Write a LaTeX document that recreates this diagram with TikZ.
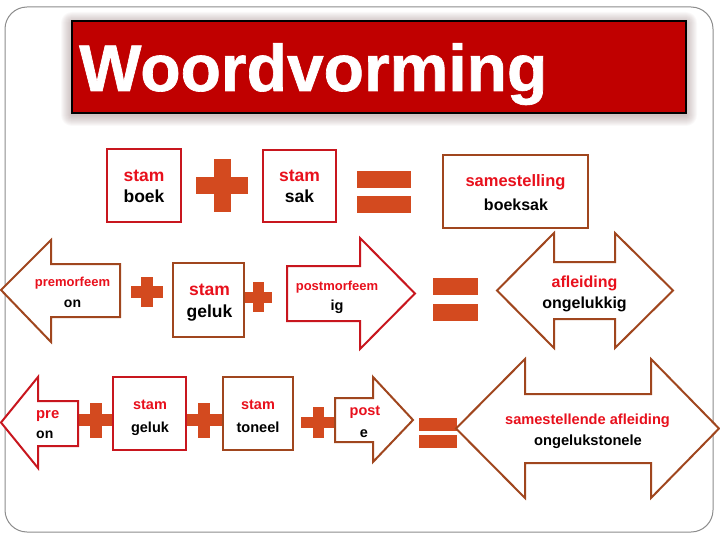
\documentclass[tikz,border=0pt]{standalone}
\usepackage{fontspec}
\setmainfont{Liberation Sans}
\newfontfamily\titlefont{Liberation Sans}[FakeBold=1]
\definecolor{titlered}{HTML}{C00000}
\definecolor{txtred}{HTML}{E8101C}
\definecolor{boxred}{HTML}{C8161E}
\definecolor{boxbrown}{HTML}{A0461E}
\definecolor{signorange}{HTML}{D34A1F}
\definecolor{framegray}{HTML}{8C8C8C}
\definecolor{shadowgray}{HTML}{7A5A5A}
\tikzset{
  redrim/.style={draw=boxred, line width=2pt, fill=white, line join=miter},
  brownrim/.style={draw=boxbrown, line width=2pt, fill=white, line join=miter},
  redword/.style={text=txtred, anchor=base, inner sep=0pt, font=\bfseries\fontsize{#1}{#1}\selectfont},
  blackword/.style={text=black, anchor=base, inner sep=0pt, font=\bfseries\fontsize{#1}{#1}\selectfont}
}
\begin{document}
\begin{tikzpicture}[x=1pt,y=-1pt]
\useasboundingbox (0,0) rectangle (720,540);
\draw[framegray, line width=1pt, rounded corners=22pt] (5,7) rectangle (713,532); % slide frame
\foreach \s in {1,...,11} % edit here for the title shadow
\fill[shadowgray, opacity=0.04, rounded corners=\s pt] (72-\s,23-\s) rectangle (686+\s,115+\s);
\draw[fill=titlered, draw=black, line width=2pt] (72,21) rectangle (686,113);
\node[anchor=base west, inner sep=0pt, text=white, font=\titlefont\bfseries\fontsize{66}{66}\selectfont] (title) at (79,91) {Woordvorming};
\foreach \x/\y/\a/\b/\t in {222/185.5/26/26.5/8.5, 147/292/16/15/6.3, 258.5/297/13.5/15/5.5, 96/420/17.5/17.5/6.3, 204/420/18/17.5/6, 318/422.5/17/15.5/5.5} % edit here for +'s
{\fill[signorange] (\x-\a,\y-\t) rectangle (\x+\a,\y+\t);
 \fill[signorange] (\x-\t,\y-\b) rectangle (\x+\t,\y+\b);}
\foreach \x/\w/\ya/\yb/\h in {357/54/171/196/17, 433/45/278/304/17, 419/38/418/435/13} % edit here for ='s
{\fill[signorange] (\x,\ya) rectangle (\x+\w,\ya+\h);
 \fill[signorange] (\x,\yb) rectangle (\x+\w,\yb+\h);}
% row 1: samestelling
\draw[redrim] (107,149) rectangle (181,222);
\draw[redrim] (263,150) rectangle (336,222);
\draw[brownrim] (443,155) rectangle (588,228);
\node[redword=17.5] (stamA) at (144,182) {stam};
\node[blackword=17.5] (boek) at (144,203) {boek};
\node[redword=17.5] (stamB) at (299.5,182) {stam};
\node[blackword=17.5] (sak) at (299.5,203) {sak};
\node[redword=16.5] (samest) at (515.5,187) {samestelling};
\node[blackword=16] (boeksak) at (516,211) {boeksak};
% row 2: afleiding
\draw[brownrim] (1,290) -- (51,240) -- (51,264) -- (120,264) -- (120,317) -- (51,317) -- (51,342) -- cycle;
\draw[brownrim] (173,263) rectangle (244,337);
\draw[redrim] (287,266) -- (360,266) -- (360,238) -- (415,293.5) -- (360,349) -- (360,321) -- (287,321) -- cycle;
\draw[brownrim] (497,290.5) -- (554,233) -- (554,262) -- (615,262) -- (615,233) -- (673,290.5) -- (615,348) -- (615,319) -- (554,319) -- (554,348) -- cycle;
\node[redword=13] (premorf) at (72.5,286) {premorfeem};
\node[blackword=14] (onA) at (72.5,307) {on};
\node[redword=17.5] (stamC) at (209.5,295) {stam};
\node[blackword=17.5] (gelukA) at (209.5,317) {geluk};
\node[redword=13] (postmorf) at (337,290) {postmorfeem};
\node[blackword=14.5] (ig) at (337,310) {ig};
\node[redword=16] (afl) at (584.5,287) {afleiding};
\node[blackword=16] (ongel) at (584.5,308) {ongelukkig};
% row 3: samestellende afleiding
\draw[redrim] (1,422.5) -- (38,377) -- (38,401) -- (78,401) -- (78,446) -- (38,446) -- (38,468) -- cycle;
\draw[redrim] (113,377) rectangle (186,450);
\draw[brownrim] (223,377) rectangle (293,450);
\draw[brownrim] (335,398) -- (373,398) -- (373,377) -- (413,420) -- (373,462) -- (373,442) -- (335,442) -- cycle;
\draw[brownrim] (456,428.5) -- (525,359) -- (525,394) -- (651,394) -- (651,359) -- (719,428.5) -- (651,498) -- (651,463) -- (525,463) -- (525,498) -- cycle;
\node[redword=14.8, anchor=base west] (pre) at (36,418) {pre};
\node[blackword=14, anchor=base west] (onB) at (36,438) {on};
\node[redword=14.5] (stamD) at (150,409) {stam};
\node[blackword=14.5] (gelukB) at (150,432) {geluk};
\node[redword=14.5] (stamE) at (258,409) {stam};
\node[blackword=14.6] (toneel) at (258,432) {toneel};
\node[redword=14.5] (post) at (365,415) {post};
\node[blackword=14.5] (e) at (364,437) {e};
\node[redword=14.6] (samafl) at (587.5,424) {samestellende afleiding};
\node[blackword=14.7] (ongton) at (588,445) {ongelukstonele};
\end{tikzpicture}
\end{document}
